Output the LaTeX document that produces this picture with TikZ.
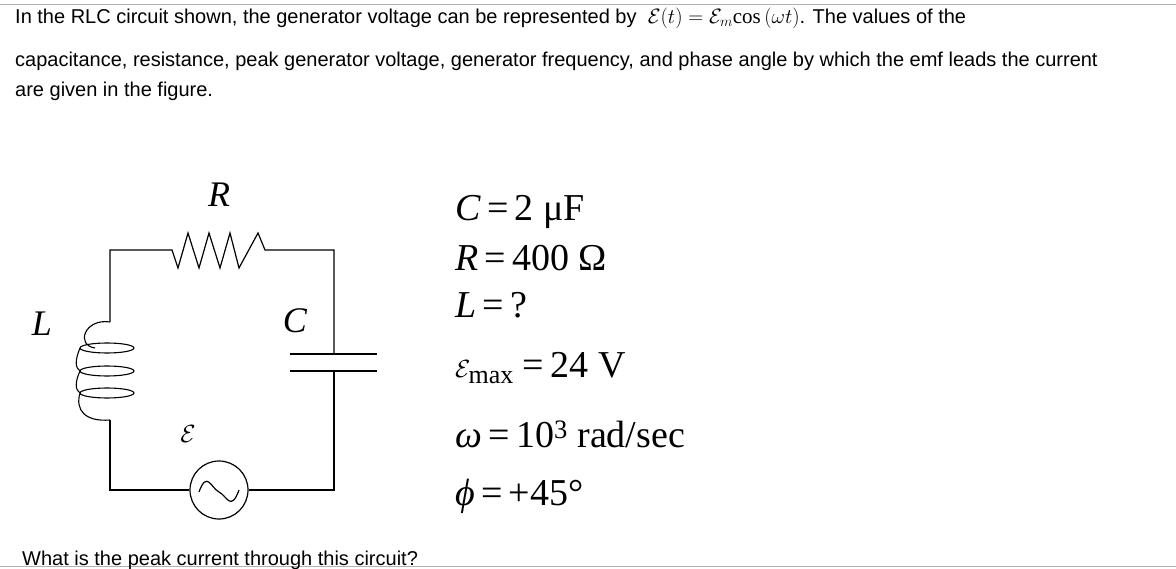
\documentclass[tikz,border=0pt]{standalone}
\usepackage{fontspec}
\setmainfont{Liberation Serif}
\newfontfamily\arial{Liberation Sans}
\begin{document}
\begin{tikzpicture}[x=1pt,y=-1pt,
  wire/.style={line width=1.2pt},
  qtext/.style={font=\arial\fontsize{20}{22}\selectfont,anchor=west,inner sep=0},
  val/.style={font=\fontsize{38}{40}\selectfont,anchor=west,inner sep=0},
  lab/.style={font=\itshape\fontsize{36}{38}\selectfont,inner sep=0}]
\useasboundingbox (0,0) rectangle (1176,569);
\draw[line width=1pt,gray!60] (0,5) -- (1176,5);
\draw[line width=1pt,gray!60] (0,566) -- (1176,566);
\node[qtext] (q1) at (15,18) {In the RLC circuit shown, the generator voltage can be represented by \ {\fontsize{21}{21}\selectfont$\mathcal{E}(t)=\mathcal{E}_m\!\cos\left(\omega t\right)$}. The values of the};
\node[qtext] (q2) at (15,61) {capacitance, resistance, peak generator voltage, generator frequency, and phase angle by which the emf leads the current};
\node[qtext] (q3) at (15,91) {are given in the figure.};
\node[qtext] (q4) at (22,560) {What is the peak current through this circuit?};
% circuit
\coordinate (tl) at (110,250); \coordinate (tr) at (334,250);
\coordinate (bl) at (110,490); \coordinate (br) at (334,490);
\coordinate (r1) at (172,250); \coordinate (r2) at (265,250);
\coordinate (l1) at (110,322); \coordinate (l2) at (110,420);
\coordinate (c1) at (334,354); \coordinate (c2) at (334,371);
\node[draw,circle,minimum size=58pt,inner sep=0,line width=1.2pt] (src) at (219,490) {};
\draw[wire] (l1) -- (tl) -- (r1) -- (178,268) -- (188,233) -- (199,268) -- (209,233) -- (220,268) -- (230,233) -- (239,268) -- (258,233) -- (265,250) -- (r2) -- (tr) -- (c1);
\draw[wire] (290,354) -- (377,354);
\draw[wire] (290,371) -- (377,371);
\draw[wire] (c2) -- (br) -- (src.east);
\draw[wire] (src.west) -- (bl) -- (l2);
\draw[wire] (src.center) ++(-20,2) .. controls +(8,-22) and +(-8,-4) .. +(20,0) .. controls +(8,4) and +(-8,22) .. +(40,-2);
% coil
\draw[line width=1.1pt] (l1) .. controls (85,318) and (75,345) .. (95,348)
  (107,348) ellipse [x radius=27, y radius=5]
  (107,371) ellipse [x radius=27, y radius=5]
  (107,393) ellipse [x radius=27, y radius=5]
  (80,348) .. controls (75,360) and (75,368) .. (80,371)
  (80,371) .. controls (75,382) and (75,390) .. (80,393)
  (80,393) .. controls (75,410) and (85,422) .. (l2);
\node[lab] (R) at (219,195) {R};
\node[lab] (L) at (42,324) {L};
\node[lab] (C) at (295,321) {C};
\node[lab] (E) at (188,434) {$\mathcal{E}$};
% values
\node[val] (v1) at (455,212) {\textit{C}\,=\,2 μF};
\node[val] (v2) at (455,258) {\textit{R}\,=\,400 Ω};
\node[val] (v3) at (455,305) {\textit{L}\,=\,?};
\node[val] (v4) at (455,368) {$\mathcal{E}$\kern-2pt{\fontsize{26}{26}\selectfont\raisebox{-6pt}{max}}\ =\,24 V};
\node[val] (v5) at (455,434) {\textit{ω}\,=\,10\textsuperscript{3} rad/sec};
\node[val] (v6) at (455,496) {\textit{ϕ}\,=\,+45°};
\end{tikzpicture}
\end{document}
